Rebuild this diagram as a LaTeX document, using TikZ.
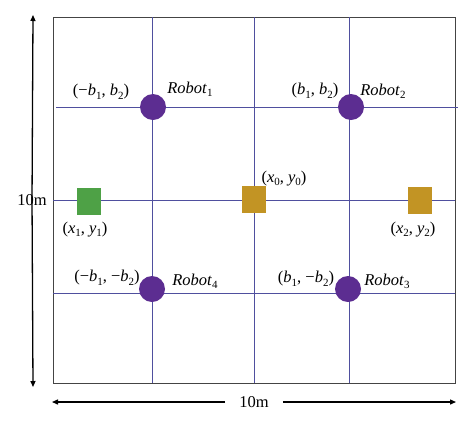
\documentclass[tikz,border=0pt]{standalone}
\usepackage{fontspec}
\setmainfont{Liberation Serif}
\usetikzlibrary{arrows.meta}
\definecolor{gridc}{HTML}{4F4F9E}
\definecolor{robotc}{HTML}{5C2D91}
\definecolor{greenc}{HTML}{4EA146}
\definecolor{goldc}{HTML}{C29424}
\definecolor{framec}{HTML}{444444}
\newcommand{\vsub}[2]{\textit{#1}\raisebox{-0.4ex}{\fontsize{11}{11}\selectfont #2}}
\tikzset{
  gridline/.style={draw=gridc, line width=0.9pt},
  robot/.style={circle, fill=robotc, minimum size=26pt, inner sep=0pt},
  target/.style={rectangle, minimum width=24pt, minimum height=27pt, inner sep=0pt},
  lbl/.style={font=\fontsize{16.5}{18}\selectfont, inner sep=0pt},
  dim/.style={line width=1.3pt, -{Triangle[length=6pt,width=5pt]}},
}
\begin{document}
\begin{tikzpicture}[x=1pt,y=-1pt]
\useasboundingbox (0,0) rectangle (474,424);
% frame
\draw[framec, line width=1pt] (53,17) rectangle (455,383);
% grid lines
\coordinate (v1t) at (152,17); \coordinate (v1b) at (152,383);
\coordinate (v2t) at (254,17); \coordinate (v2b) at (254,383);
\coordinate (v3t) at (349,17); \coordinate (v3b) at (349,383);
\coordinate (h1l) at (56,107); \coordinate (h1r) at (458,107);
\coordinate (h2l) at (53,200); \coordinate (h2r) at (455,200);
\coordinate (h3l) at (53,293); \coordinate (h3r) at (455,293);
\draw[gridline] (v1t) -- (v1b);
\draw[gridline] (v2t) -- (v2b);
\draw[gridline] (v3t) -- (v3b);
\draw[gridline] (h1l) -- (h1r);
\draw[gridline] (h2l) -- (h2r);
\draw[gridline] (h3l) -- (h3r);
% robots
\node[robot] (r1) at (153,107) {};
\node[robot] (r2) at (351,107) {};
\node[robot] (r4) at (152,289) {};
\node[robot] (r3) at (348,289) {};
% targets
\node[target, fill=greenc] (t1) at (88.5,201) {};
\node[target, fill=goldc] (t0) at (254,199.5) {};
\node[target, fill=goldc] (t2) at (420,200) {};
% labels
\node[lbl] (l1) at (101,92) {(−\vsub{b}{1}, \vsub{b}{2})};
\node[lbl] (n1) at (190,89) {\vsub{Robot}{1}};
\node[lbl] (l2) at (315,91) {(\vsub{b}{1}, \vsub{b}{2})};
\node[lbl] (n2) at (383,91) {\vsub{Robot}{2}};
\node[lbl] (l0) at (284,179) {(\vsub{x}{0}, \vsub{y}{0})};
\node[lbl] (lx1) at (85,230) {(\vsub{x}{1}, \vsub{y}{1})};
\node[lbl] (lx2) at (413,230) {(\vsub{x}{2}, \vsub{y}{2})};
\node[lbl] (l4) at (107,278) {(−\vsub{b}{1}, −\vsub{b}{2})};
\node[lbl] (n4) at (195,281) {\vsub{Robot}{4}};
\node[lbl] (l3) at (306,279) {(\vsub{b}{1}, −\vsub{b}{2})};
\node[lbl] (n3) at (387,281) {\vsub{Robot}{3}};
% dimensions
\node[lbl] (dv) at (32,200) {10m};
\node[lbl] (dh) at (254,402) {10m};
\coordinate (vtop) at (33,15);
\coordinate (vbot) at (33,387);
\coordinate (hl) at (52,402);
\coordinate (hr) at (456,402);
\draw[dim] ([yshift=-9pt]dv.north) -- (vtop);
\draw[dim] ([yshift=9pt]dv.south) -- (vbot);
\draw[dim] ([xshift=-14pt]dh.west) -- (hl);
\draw[dim] ([xshift=14pt]dh.east) -- (hr);
\end{tikzpicture}
\end{document}
